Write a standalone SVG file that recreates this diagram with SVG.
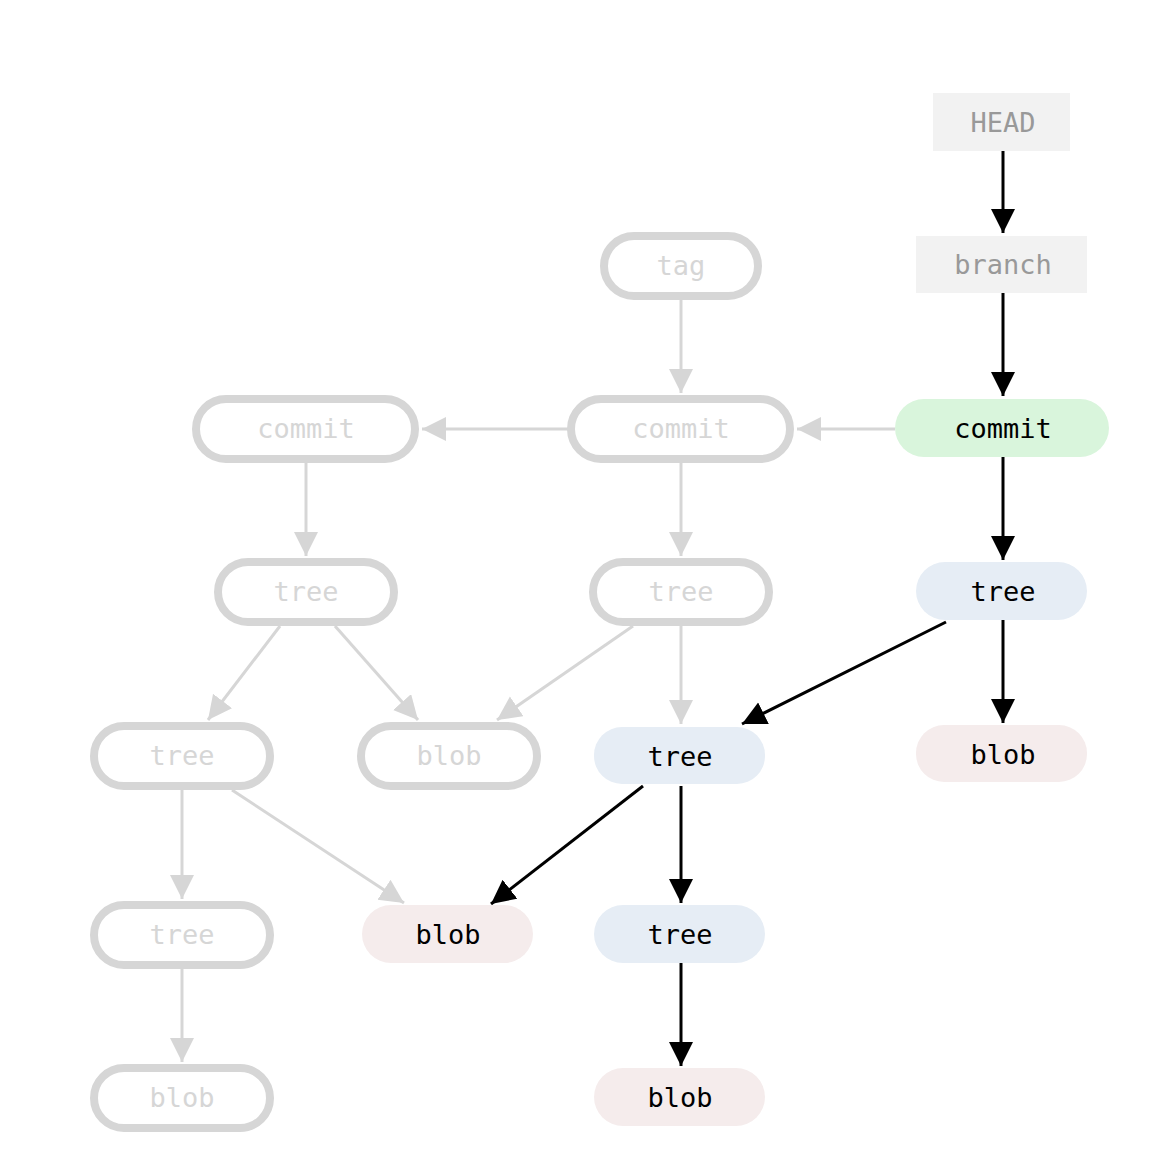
<svg xmlns="http://www.w3.org/2000/svg" width="1172" height="1172" viewBox="0 0 1172 1172">
<style>
text{font-family:"DejaVu Sans Mono","Liberation Mono",monospace;font-size:27px;text-anchor:middle;dominant-baseline:central}
.g rect{fill:#fff;stroke:#d6d6d6;stroke-width:8}
.g text{fill:#d6d6d6}
.b text{fill:#000}
.e path{fill:none;stroke-width:3}
.k{stroke:#000}.l{stroke:#d6d6d6}
</style>
<defs>
<marker id="ak" markerUnits="userSpaceOnUse" markerWidth="26" markerHeight="26" refX="24" refY="12" orient="auto"><path d="M0,0L24,12L0,24z" fill="#000"/></marker>
<marker id="al" markerUnits="userSpaceOnUse" markerWidth="26" markerHeight="26" refX="24" refY="12" orient="auto"><path d="M0,0L24,12L0,24z" fill="#d6d6d6"/></marker>
</defs>
<g class="e">
<path class="k" marker-end="url(#ak)" d="M1003,151V233"/>
<path class="k" marker-end="url(#ak)" d="M1003,293V396"/>
<path class="k" marker-end="url(#ak)" d="M1003,457V560"/>
<path class="k" marker-end="url(#ak)" d="M1003,620V723"/>
<path class="k" marker-end="url(#ak)" d="M946,622L742,724"/>
<path class="k" marker-end="url(#ak)" d="M643,786L491,904"/>
<path class="k" marker-end="url(#ak)" d="M681,786V903"/>
<path class="k" marker-end="url(#ak)" d="M681,963V1066"/>
<path class="l" marker-end="url(#al)" d="M895,429H797"/>
<path class="l" marker-end="url(#al)" d="M569,429H422"/>
<path class="l" marker-end="url(#al)" d="M681,298V393"/>
<path class="l" marker-end="url(#al)" d="M681,461V556"/>
<path class="l" marker-end="url(#al)" d="M306,461V556"/>
<path class="l" marker-end="url(#al)" d="M280,626L208,720"/>
<path class="l" marker-end="url(#al)" d="M335,626L418,720"/>
<path class="l" marker-end="url(#al)" d="M633,626L497,720"/>
<path class="l" marker-end="url(#al)" d="M681,626V724"/>
<path class="l" marker-end="url(#al)" d="M182,790V899"/>
<path class="l" marker-end="url(#al)" d="M232,790L404,903"/>
<path class="l" marker-end="url(#al)" d="M182,969V1062"/>
</g>
<g id="head"><rect x="933" y="93" width="137" height="58" fill="#f2f2f2"/><text x="1003" y="122" fill="#999">HEAD</text></g>
<g id="branch"><rect x="916" y="236" width="171" height="57" fill="#f2f2f2"/><text x="1003" y="264" fill="#999">branch</text></g>
<g id="commit3" class="b"><rect x="895" y="399" width="214" height="58" rx="29" fill="#d9f5dc"/><text x="1003" y="428">commit</text></g>
<g id="tree3" class="b"><rect x="916" y="562" width="171" height="58" rx="29" fill="#e6edf5"/><text x="1003" y="591">tree</text></g>
<g id="blob3" class="b"><rect x="916" y="725" width="171" height="57" rx="28" fill="#f5ecec"/><text x="1003" y="754">blob</text></g>
<g id="tree4" class="b"><rect x="594" y="727" width="171" height="57" rx="28" fill="#e6edf5"/><text x="680" y="756">tree</text></g>
<g id="tree5" class="b"><rect x="594" y="905" width="171" height="58" rx="29" fill="#e6edf5"/><text x="680" y="934">tree</text></g>
<g id="blob5" class="b"><rect x="594" y="1068" width="171" height="58" rx="29" fill="#f5ecec"/><text x="680" y="1097">blob</text></g>
<g id="blob4" class="b"><rect x="362" y="905" width="171" height="58" rx="29" fill="#f5ecec"/><text x="448" y="934">blob</text></g>
<g id="tag" class="g"><rect x="604" y="236" width="154" height="60" rx="30"/><text x="681" y="265">tag</text></g>
<g id="commit2" class="g"><rect x="571" y="399" width="219" height="60" rx="30"/><text x="681" y="428">commit</text></g>
<g id="commit1" class="g"><rect x="196" y="399" width="219" height="60" rx="30"/><text x="306" y="428">commit</text></g>
<g id="tree1" class="g"><rect x="218" y="562" width="176" height="60" rx="30"/><text x="306" y="591">tree</text></g>
<g id="tree2" class="g"><rect x="593" y="562" width="176" height="60" rx="30"/><text x="681" y="591">tree</text></g>
<g id="tree6" class="g"><rect x="94" y="726" width="176" height="60" rx="30"/><text x="182" y="755">tree</text></g>
<g id="blob1" class="g"><rect x="361" y="726" width="176" height="60" rx="30"/><text x="449" y="755">blob</text></g>
<g id="tree7" class="g"><rect x="94" y="905" width="176" height="60" rx="30"/><text x="182" y="934">tree</text></g>
<g id="blob2" class="g"><rect x="94" y="1068" width="176" height="60" rx="30"/><text x="182" y="1097">blob</text></g>
</svg>
